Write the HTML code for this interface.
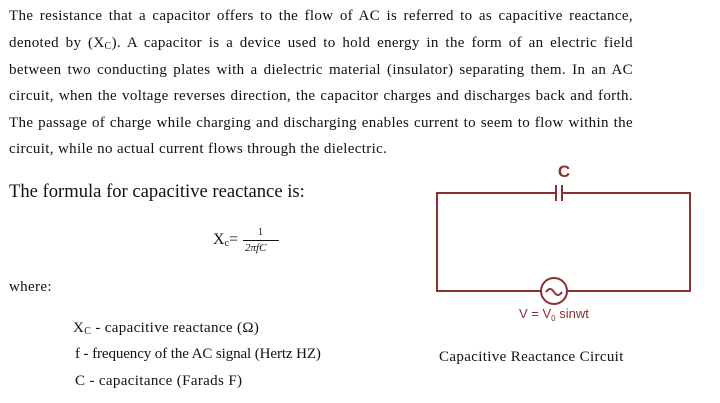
<!DOCTYPE html>
<html><head><meta charset="utf-8"><style>
body{margin:0;width:720px;height:403px;background:#fff;position:relative;overflow:hidden;font-family:"Liberation Serif",serif;color:#111}
.l{position:absolute;left:9px;width:624px;font-size:15px;letter-spacing:0.35px;line-height:16px;white-space:nowrap}
.j{text-align:justify;text-align-last:justify;white-space:normal}
.a{position:absolute;white-space:nowrap}
.t{font-size:15px;letter-spacing:0.35px}
sub{font-size:10px;vertical-align:-2px;line-height:0}
</style></head><body>
<div class="l j" style="top:8px">The resistance that a capacitor offers to the flow of AC is referred to as capacitive reactance,</div>
<div class="l j" style="top:35px">denoted by (X<sub>C</sub>). A capacitor is a device used to hold energy in the form of an electric field</div>
<div class="l j" style="top:62px">between two conducting plates with a dielectric material (insulator) separating them. In an AC</div>
<div class="l j" style="top:88px">circuit, when the voltage reverses direction, the capacitor charges and discharges back and forth.</div>
<div class="l j" style="top:115px">The passage of charge while charging and discharging enables current to seem to flow within the</div>
<div class="l" style="top:141px">circuit, while no actual current flows through the dielectric.</div>
<div class="a" style="left:9px;top:181px;font-size:18.6px">The formula for capacitive reactance is:</div>
<div class="a" style="left:213px;top:231px;font-size:16px">X<sub>c</sub>=</div>
<div class="a" style="left:243px;top:240px;width:36px;border-top:1px solid #111"></div>
<div class="a" style="left:258px;top:227px;font-size:10px">1</div>
<div class="a" style="left:245px;top:242px;font-size:11px;font-style:italic">2πfC</div>
<div class="a t" style="left:9px;top:279px">where:</div>
<div class="a t" style="left:73px;top:320px">X<sub>C</sub> - capacitive reactance (Ω)</div>
<div class="a" style="left:75px;top:346px;font-size:15px;letter-spacing:-0.1px">f - frequency of the AC signal (Hertz HZ)</div>
<div class="a t" style="left:75px;top:373px">C - capacitance (Farads F)</div>
<div class="a t" style="left:439px;top:349px">Capacitive Reactance Circuit</div>
<svg class="a" style="left:0;top:0" width="720" height="403">
<g stroke="#8b2f2f" stroke-width="2" fill="none">
<path d="M556 193 H437 V291 H541 M567 291 H690 V193 H562"/>
<path d="M556 185 V201 M562 185 V201"/>
<circle cx="554" cy="291" r="13"/>
<path d="M546 292 q4 -6 8 0 t8 0"/>
</g>
<text x="564" y="177" font-family="Liberation Sans" font-weight="bold" font-size="17" fill="#8b2f2f" text-anchor="middle">C</text>
<text x="519" y="318" font-family="Liberation Sans" font-size="13" fill="#8b2f2f">V = V<tspan font-size="8" dy="3">0</tspan><tspan dy="-3"> sinwt</tspan></text>
</svg>
</body></html>
